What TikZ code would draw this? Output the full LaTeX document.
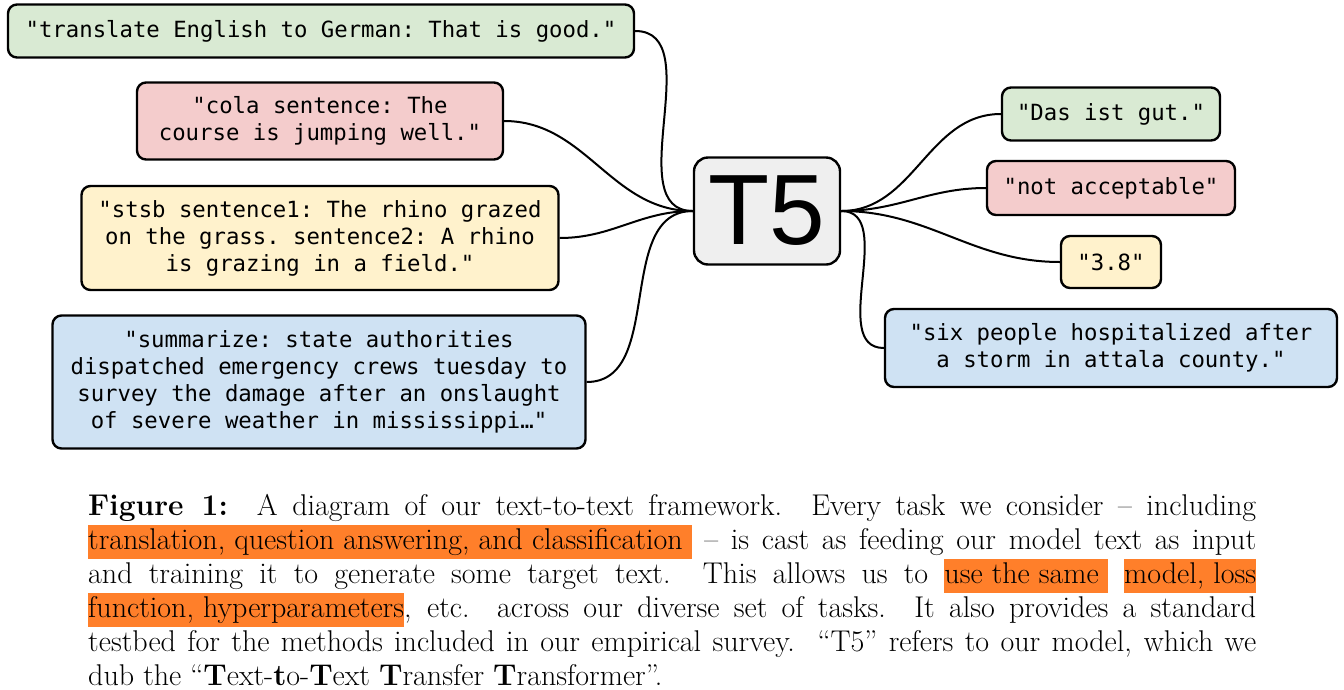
\documentclass[tikz,border=0pt]{standalone}
\usepackage{fontspec}
\setmonofont{DejaVu Sans Mono}
\newfontfamily\tfive{Liberation Sans}
\definecolor{bg}{HTML}{D9EAD3}
\definecolor{br}{HTML}{F4CCCC}
\definecolor{by}{HTML}{FFF2CC}
\definecolor{bb}{HTML}{CFE2F3}
\definecolor{bt}{HTML}{EFEFEF}
\definecolor{hlor}{HTML}{FF7F2A}
\newcommand{\hlx}[1]{{\setlength{\fboxsep}{0pt}\colorbox{hlor}{\strut #1}}}
\tikzset{
 box/.style={draw,line width=2.4pt,rounded corners=9pt,font=\ttfamily\fontsize{22.3}{27}\selectfont,align=center,inner sep=0pt},
 conn/.style={line width=2pt},
 captext/.style={anchor=base west,inner sep=0pt,font=\fontsize{30}{34}\selectfont}
}
\begin{document}
\begin{tikzpicture}[x=1pt,y=-1pt]
\useasboundingbox (0,0) rectangle (1344,689);
\node[box,fill=bg,minimum width=626,minimum height=53] (a) at (321,31) {"translate English to German: That is good."};
\node[box,fill=br,minimum width=366,minimum height=77] (b) at (320,121) {"cola sentence: The\\course is jumping well."};
\node[box,fill=by,minimum width=477,minimum height=104] (c) at (320,238) {"stsb sentence1: The rhino grazed\\on the grass. sentence2: A rhino\\is grazing in a field."};
\node[box,fill=bb,minimum width=533,minimum height=133] (d) at (319,382) {"summarize: state authorities\\dispatched emergency crews tuesday to\\survey the damage after an onslaught\\of severe weather in mississippi…"};
\node[box,fill=bt,minimum width=146,minimum height=107,rounded corners=14pt,font=\tfive\fontsize{100}{100}\selectfont] (t) at (767,211) {T5};
\node[box,fill=bg,minimum width=218,minimum height=53] (e) at (1111,114) {"Das ist gut."};
\node[box,fill=br,minimum width=248,minimum height=54] (f) at (1111,188) {"not acceptable"};
\node[box,fill=by,minimum width=100,minimum height=52] (g) at (1111,262) {"3.8"};
\node[box,fill=bb,minimum width=452,minimum height=78] (h) at (1111,348) {"six people hospitalized after\\a storm in attala county."};
\foreach \n in {a,b,c,d}{\draw[conn] (\n.east) to[out=0,in=180] (t.west);}
\foreach \n in {e,f,g,h}{\draw[conn] (t.east) to[out=0,in=180] (\n.west);}
\node[captext] (l1) at (88,515) {\hbox to 1168pt{\textbf{Figure 1:}\ \ A diagram of our text-to-text framework.\ \ Every task we consider -- including}};
\node[captext] (l2) at (88,549) {\hbox to 1168pt{\hlx{translation, question answering, and classification\ } -- is cast as feeding our model text as input}};
\node[captext] (l3) at (88,583) {\hbox to 1168pt{and training it to generate some target text.\ \ This allows us to \hlx{use the same\ } \hlx{model, loss}}};
\node[captext] (l4) at (88,617) {\hbox to 1168pt{\hlx{function, hyperparameters}, etc. across our diverse set of tasks.\ \ It also provides a standard}};
\node[captext] (l5) at (88,651) {\hbox to 1168pt{testbed for the methods included in our empirical survey.\ \ ``T5'' refers to our model, which we}};
\node[captext] (l6) at (88,685) {dub the ``\textbf{T}ext-\textbf{t}o-\textbf{T}ext \textbf{T}ransfer \textbf{T}ransformer''.};
\end{tikzpicture}
\end{document}
